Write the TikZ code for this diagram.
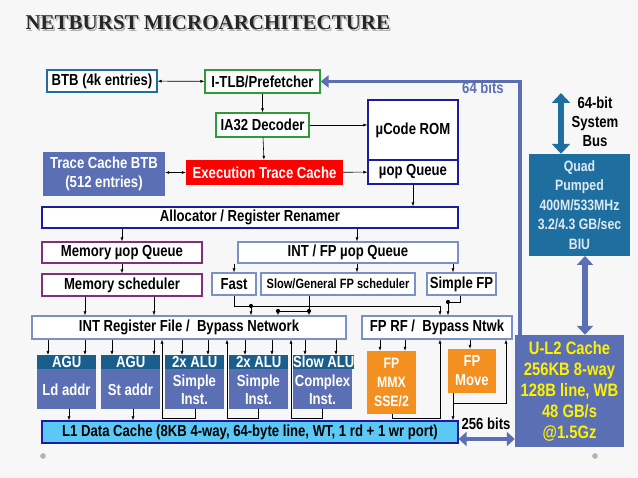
\documentclass[tikz,border=0pt]{standalone}
\usepackage{fontspec}
\setmainfont{Liberation Sans}[FakeStretch=0.82]
\newfontfamily\titlefont{Liberation Serif}
\usetikzlibrary{arrows.meta}
\definecolor{slate}{HTML}{5A6FB4}
\definecolor{teal2}{HTML}{1E6FA0}
\definecolor{hdr}{HTML}{1A5F8C}
\definecolor{navy}{HTML}{1C1CA0}
\definecolor{grn}{HTML}{2E9A3A}
\definecolor{purp}{HTML}{80307A}
\definecolor{ltb}{HTML}{7A90C8}
\definecolor{orng}{HTML}{F39020}
\definecolor{cyanb}{HTML}{5BC8F5}
\tikzset{
 box/.style={draw, fill=white, line width=1.2pt, inner sep=0pt, font=\fontsize{16}{16}\selectfont\bfseries},
 fbox/.style={inner sep=0pt, font=\fontsize{16}{16}\selectfont\bfseries, text=white, align=center},
 ar/.style={-{Latex[length=4pt,width=3pt]}, line width=0.6pt},
 dar/.style={{Latex[length=4pt,width=3pt]}-{Latex[length=4pt,width=3pt]}, line width=0.6pt},
 dot/.style={circle, fill=black, inner sep=1.5pt},
}
\begin{document}
\begin{tikzpicture}[x=1pt,y=-1pt]
\useasboundingbox (0,0) rectangle (638,478);
\fill[gray!6] (0,0) rectangle (638,478);
% title
\node[anchor=west, text=gray!60, font=\titlefont\fontsize{21}{22}\selectfont\bfseries] (tsh) at (23.5,24.5) {NETBURST MICROARCHITECTURE};
\node[anchor=west, text=black!85, font=\titlefont\fontsize{21}{22}\selectfont\bfseries] (title) at (22,23) {NETBURST MICROARCHITECTURE};
% front end
\node[box, draw=teal2, minimum width=110, minimum height=22] (btb) at (102,81) {BTB (4k entries)};
\node[box, draw=grn, minimum width=115, minimum height=23] (itlb) at (262.5,81.5) {I-TLB/Prefetcher};
\node[box, draw=grn, minimum width=93, minimum height=24] (dec) at (262.5,125) {IA32 Decoder};
\node[box, draw=navy, minimum width=90, minimum height=60] (rom) at (413,130) {µCode ROM};
\node[box, draw=navy, minimum width=90, minimum height=24] (uq) at (413,172) {µop Queue};
\node[fbox, fill=slate, minimum width=122, minimum height=44, font=\fontsize{16}{19}\selectfont\bfseries] (tcbtb) at (104,174) {Trace Cache BTB\\(512 entries)};
\node[fbox, fill=red, minimum width=157, minimum height=25] (etc) at (264.5,172.5) {Execution Trace Cache};
\node[box, draw=navy, minimum width=416, minimum height=21] (alloc) at (250,217.5) {Allocator / Register Renamer};
\node[box, draw=purp, minimum width=160, minimum height=21] (mq) at (122,252.5) {Memory µop Queue};
\node[box, draw=ltb, minimum width=220, minimum height=21] (iq) at (348,252.5) {INT / FP µop Queue};
\node[box, draw=purp, minimum width=160, minimum height=22] (ms) at (122,285) {Memory scheduler};
\node[box, draw=ltb, minimum width=44, minimum height=22] (fast) at (234,284) {Fast};
\node[box, draw=ltb, minimum width=154, minimum height=22, font=\fontsize{13.5}{14}\selectfont\bfseries] (slow) at (338,284) {Slow/General FP scheduler};
\node[box, draw=ltb, minimum width=69, minimum height=22] (sfp) at (461.5,284) {Simple FP};
\node[box, draw=ltb, minimum width=314, minimum height=23] (irf) at (189,327.5) {INT Register File /\ \ Bypass Network};
\node[box, draw=ltb, minimum width=150, minimum height=23] (frf) at (437,327.5) {FP RF /\ \ Bypass Ntwk};
% execution units
\foreach \n/\x/\h/\b in {agu1/37/AGU/{Ld addr}, agu2/101/AGU/{St addr}, alu1/165/2x ALU/{Simple\\Inst.}, alu2/229/2x ALU/{Simple\\Inst.}, salu/293/Slow ALU/{Complex\\Inst.}}{
  \fill[slate] (\x,369) rectangle (\x+59,409);
  \node[fbox, fill=hdr, minimum width=59, minimum height=14, anchor=north west] (\n h) at (\x,355) {\h};
  \node[fbox, anchor=center, font=\fontsize{16}{18}\selectfont\bfseries] (\n) at (\x+29.5,390) {\b};
}
\node[fbox, fill=orng, minimum width=49, minimum height=63, font=\fontsize{15}{19}\selectfont\bfseries] (mmx) at (391.5,382.5) {FP\\MMX\\SSE/2};
\node[fbox, fill=orng, minimum width=48, minimum height=44, font=\fontsize{16}{19}\selectfont\bfseries] (fmv) at (472,371) {FP\\Move};
\node[box, fill=cyanb, draw=navy, minimum width=416, minimum height=22] (l1) at (250,432) {L1 Data Cache (8KB 4-way, 64-byte line, WT, 1 rd + 1 wr port)};
\node[fbox, fill=slate, text=yellow, minimum width=109, minimum height=112, font=\fontsize{18}{21}\selectfont\bfseries] (l2) at (569.5,391) {U-L2 Cache\\256KB 8-way\\128B line, WB\\48 GB/s\\@1.5Gz};
\node[fbox, fill=teal2, text=white!85!teal2, minimum width=101, minimum height=102, font=\fontsize{15}{19.5}\selectfont\bfseries] (biu) at (579.5,205) {Quad\\Pumped\\400M/533MHz\\3.2/4.3 GB/sec\\BIU};
\node[font=\fontsize{16}{19}\selectfont\bfseries, align=center] (sbus) at (595,122) {64-bit\\System\\Bus};
% big arrows
\coordinate (bt) at (561,93);
\draw[teal2, line width=6pt, {Triangle[length=10pt,width=18pt]}-{Triangle[length=10pt,width=18pt]}] (bt) -- (biu.north -| bt);
\coordinate (bl) at (585,256);
\draw[slate, line width=6pt, {Triangle[length=9pt,width=16pt]}-{Triangle[length=9pt,width=16pt]}] (bl) -- (l2.north -| bl);
\coordinate (c64) at (520,81.5);
\draw[slate, line width=3.5pt, -{Triangle[length=8pt,width=12pt]}] (l2.north -| c64) -- (c64) -- (itlb.east);
\node[text=slate, font=\fontsize{16}{16}\selectfont\bfseries] (l64) at (483,88) {64 bits};
\coordinate (c256) at (486,439);
\draw[slate, line width=4pt, {Triangle[length=8pt,width=14pt]}-{Triangle[length=8pt,width=14pt]}] (l1.east |- c256) -- (l2.west |- c256);
\node[font=\fontsize{16}{16}\selectfont\bfseries] (l256) at (486,424) {256 bits};
% thin arrows
\draw[dar] (btb) -- (itlb);
\draw[ar] (itlb) -- (dec);
\draw[ar] (dec) -- (rom.west |- dec);
\draw[ar] (dec) -- (etc);
\draw[dar] (tcbtb.east |- etc) -- (etc);
\draw[ar] (etc) -- (uq);
\draw[ar] (uq) -- (uq |- alloc.north);
\draw[ar] (alloc.south -| mq) -- (mq);
\draw[ar] (alloc.south -| 357,0) -- (iq.north -| 357,0);
\draw[ar] (mq) -- (ms);
\draw[ar] (iq.south -| fast) -- (fast);
\draw[ar] (iq.south -| 357,0) -- (slow.north -| 357,0);
\draw[ar] (iq.south -| 453,0) -- (sfp.north -| 453,0);
\draw[ar] (ms.south -| 85,0) -- (irf.north -| 85,0);
\draw[ar] (ms.south -| 154,0) -- (irf.north -| 154,0);
% scheduler buses
\draw[ar] (fast.south) -- (234,306) -- (440,306) -- (frf.north -| 440,0);
\draw[ar] (251,306) node[dot]{} -- (irf.north -| 251,0);
\draw[ar] (slow.south -| 309,0) -- (irf.north -| 309,0);
\draw[ar] (309,311) node[dot]{} -- (278,311) node[dot]{} -- (irf.north -| 278,0);
\draw[ar] (sfp.south -| 460,0) -- (460,302) -- (448,302) node[dot]{} -- (frf.north -| 448,0);
% RF to units
\foreach \x in {48,85,112,154,182,208,245,272,305,336}{ \draw[ar] (irf.south -| \x,0) -- (\x,355); }
\draw[ar] (frf.south -| 380,0) -- (mmx.north -| 380,0);
\draw[ar] (frf.south -| 405,0) -- (mmx.north -| 405,0);
\draw[ar] (frf.south -| 470,0) -- (fmv.north -| 470,0);
% returns
\draw[ar] (195,409) -- (195,418) -- (162,418) -- (irf.south -| 162,0);
\draw[ar] (258,409) -- (258,418) -- (227,418) -- (irf.south -| 227,0);
\draw[ar] (322,409) -- (322,418) -- (291,418) -- (irf.south -| 291,0);
\draw[ar] (mmx.south -| 392,0) -- (392,418) -- (440,418) -- (frf.south -| 440,0);
\draw[ar] (fmv.south -| 453,0) -- (l1.north -| 453,0);
\draw[ar] (453,403) -- (506,403) -- (frf.south -| 506,0);
\draw[ar] (69,409) -- (l1.north -| 69,0);
\draw[ar] (133,409) -- (l1.north -| 133,0);
% corner dots
\node[circle, fill=gray!60, inner sep=2pt] (d1) at (43,456) {};
\node[circle, fill=gray!60, inner sep=2pt] (d2) at (595,456) {};
\end{tikzpicture}
\end{document}
